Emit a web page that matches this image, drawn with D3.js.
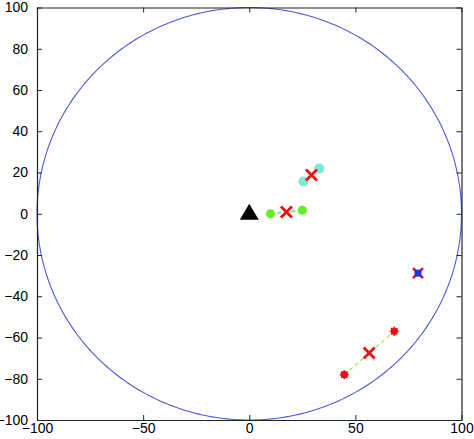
<!DOCTYPE html>
<html><head><meta charset="utf-8">
<script src="https://cdn.jsdelivr.net/npm/d3@7"></script>
<style>body{margin:0;background:#fff}svg{display:block}text{font-family:"Liberation Sans",Arial,sans-serif}</style>
</head><body>
<script>
const xTicks=[-100,-50,0,50,100];
const yTicks=[-100,-80,-60,-40,-20,0,20,40,60,80,100];
const circleRadius=100;
const origin=[[0,0]];
const greenPair=[[10,0],[25,1.7]];
const greenMid=[[17.5,0.8]];
const cyanPair=[[25.5,15.6],[33,22]];
const cyanMid=[[29.3,18.8]];
const redPair=[[44.8,-78],[68.3,-57]];
const redMid=[[56.5,-67.5]];
const bluePoint=[[79.5,-28.8]];

const W=474,H=439,m={l:37,r:12.5,t:7.5,b:19};
const svg=d3.select("body").append("svg").attr("width",W).attr("height",H);
const x=d3.scaleLinear().domain([-100,100]).range([m.l,W-m.r]);
const y=d3.scaleLinear().domain([-100,100]).range([H-m.b,m.t]);
const fmt=d3.format("d");
const g=svg.append("g");
const ang=d3.range(0,361,1);
g.append("path").datum(ang).attr("fill","none").attr("stroke","#4a5ad8").attr("stroke-width",1.1)
 .attr("d",d3.line().x(a=>x(circleRadius*Math.cos(a*Math.PI/180))).y(a=>y(circleRadius*Math.sin(a*Math.PI/180))));
const line=d3.line().x(d=>x(d[0])).y(d=>y(d[1]));
[[greenPair,"#66dd33"],[cyanPair,"#aadd44"],[redPair,"#99ee55"]].forEach(([p,c])=>{
 g.append("path").datum(p).attr("d",line).attr("fill","none").attr("stroke",c).attr("stroke-width",1.3).attr("stroke-dasharray","4,3");
});
function dots(data,r,c){g.selectAll(null).data(data).enter().append("circle").attr("cx",d=>x(d[0])).attr("cy",d=>y(d[1])).attr("r",r).attr("fill",c);}
function xs(data,s,c,w){data.forEach(d=>{const cx=x(d[0]),cy=y(d[1]);
 g.append("path").attr("d",`M${cx-s},${cy-s}L${cx+s},${cy+s}M${cx-s},${cy+s}L${cx+s},${cy-s}`).attr("stroke",c).attr("stroke-width",w).attr("fill","none");});}
function asts(data,r,c){data.forEach(d=>{const cx=x(d[0]),cy=y(d[1]);
 g.append("circle").attr("cx",cx).attr("cy",cy).attr("r",r*0.8).attr("fill",c);
 let p="";for(let k=0;k<4;k++){const a=k*Math.PI/4;p+=`M${cx-r*Math.cos(a)},${cy-r*Math.sin(a)}L${cx+r*Math.cos(a)},${cy+r*Math.sin(a)}`;}
 g.append("path").attr("d",p).attr("stroke",c).attr("stroke-width",1.6);});}
dots(greenPair,4.5,"#66ee22");
dots(cyanPair,5,"#7fe8d8");
asts(redPair,4.5,"#ee1111");
xs(greenMid,5.5,"#ee1111",2.8);
xs(cyanMid,5.5,"#ee1111",2.8);
xs(redMid,5.5,"#ee1111",2.8);
xs(bluePoint,5,"#ee1111",2.6);
g.selectAll(null).data(bluePoint).enter().append("rect").attr("x",d=>x(d[0])-3.5).attr("y",d=>y(d[1])-3.5).attr("width",7).attr("height",7).attr("fill","#2233ee");
g.selectAll(null).data(origin).enter().append("path").attr("transform",d=>`translate(${x(d[0])},${y(d[1])-1})`)
 .attr("d","M0,-9L9.5,7L-9.5,7Z").attr("fill","#000");
const ax=svg.append("g");
ax.append("g").attr("transform",`translate(0,${H-m.b})`).call(d3.axisBottom(x).tickValues(xTicks).tickFormat(fmt).tickSizeInner(-5).tickSizeOuter(0).tickPadding(3));
ax.append("g").attr("transform",`translate(${m.l},0)`).call(d3.axisLeft(y).tickValues(yTicks).tickFormat(fmt).tickSizeInner(-5).tickSizeOuter(0).tickPadding(9));
ax.append("g").attr("transform",`translate(0,${m.t})`).call(d3.axisTop(x).tickValues(xTicks).tickFormat("").tickSizeInner(-5).tickSizeOuter(0));
ax.append("g").attr("transform",`translate(${W-m.r},0)`).call(d3.axisRight(y).tickValues(yTicks).tickFormat("").tickSizeInner(-5).tickSizeOuter(0));
ax.selectAll("text").attr("font-size",14).attr("fill","#000").attr("font-family","Liberation Sans, Arial, sans-serif");
ax.selectAll(".domain").attr("stroke","#222").attr("stroke-width",1.2);
ax.selectAll(".tick line").attr("stroke","#222");
</script>
</body></html>
